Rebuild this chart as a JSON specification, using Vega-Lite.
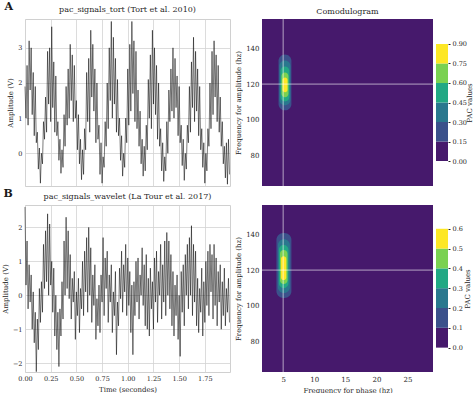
{
"$schema": "https://vega.github.io/schema/vega-lite/v6.json",
"padding": {"left": 0, "top": 0, "right": 0, "bottom": 0},
"config": {
  "font": "DejaVu Serif",
  "view": {"stroke": "#d0d0d0", "strokeWidth": 1},
  "axis": {"labelFontSize": 6.5, "titleFontSize": 7, "labelColor": "#262626", "titleColor": "#262626", "titleFontWeight": "normal", "ticks": false, "domain": false, "grid": false, "gridColor": "#d3d3d3", "gridWidth": 0.8, "labelPadding": 3, "titlePadding": 4, "labelOverlap": false},
  "title": {"fontSize": 8, "fontWeight": "normal", "color": "#262626", "offset": 3}
},
"datasets": {
  "tort": [
{"t":0.00,"v":1.9},{"t":0.01,"v":1.0},{"t":0.02,"v":2.5},{"t":0.03,"v":0.8},{"t":0.04,"v":3.2},{"t":0.05,"v":1.8},{"t":0.06,"v":3.0},{"t":0.07,"v":1.1},{"t":0.08,"v":2.3},{"t":0.09,"v":0.5},
{"t":0.10,"v":1.9},{"t":0.11,"v":0.3},{"t":0.12,"v":0.6},{"t":0.13,"v":-0.45},{"t":0.14,"v":0.15},{"t":0.15,"v":-0.85},{"t":0.16,"v":0.0},{"t":0.17,"v":-0.3},{"t":0.18,"v":0.9},{"t":0.19,"v":0.4},
{"t":0.20,"v":1.6},{"t":0.21,"v":0.6},{"t":0.22,"v":2.9},{"t":0.23,"v":1.4},{"t":0.24,"v":3.0},{"t":0.25,"v":0.9},{"t":0.26,"v":3.6},{"t":0.27,"v":1.3},{"t":0.28,"v":2.6},{"t":0.29,"v":0.6},
{"t":0.30,"v":2.2},{"t":0.31,"v":0.5},{"t":0.32,"v":0.9},{"t":0.33,"v":-0.2},{"t":0.34,"v":0.4},{"t":0.35,"v":-0.57},{"t":0.36,"v":0.1},{"t":0.37,"v":-0.4},{"t":0.38,"v":1.1},{"t":0.39,"v":0.2},
{"t":0.40,"v":1.9},{"t":0.41,"v":0.8},{"t":0.42,"v":2.4},{"t":0.43,"v":1.0},{"t":0.44,"v":3.1},{"t":0.45,"v":1.5},{"t":0.46,"v":2.8},{"t":0.47,"v":0.9},{"t":0.48,"v":2.5},{"t":0.49,"v":1.0},
{"t":0.50,"v":1.5},{"t":0.51,"v":0.1},{"t":0.52,"v":1.1},{"t":0.53,"v":-0.3},{"t":0.54,"v":0.4},{"t":0.55,"v":-0.75},{"t":0.56,"v":0.1},{"t":0.57,"v":-0.6},{"t":0.58,"v":0.7},{"t":0.59,"v":0.1},
{"t":0.60,"v":2.3},{"t":0.61,"v":0.9},{"t":0.62,"v":2.7},{"t":0.63,"v":0.6},{"t":0.64,"v":3.5},{"t":0.65,"v":1.6},{"t":0.66,"v":3.1},{"t":0.67,"v":1.2},{"t":0.68,"v":2.4},{"t":0.69,"v":0.3},
{"t":0.70,"v":2.0},{"t":0.71,"v":0.4},{"t":0.72,"v":0.8},{"t":0.73,"v":-0.6},{"t":0.74,"v":0.3},{"t":0.75,"v":-0.85},{"t":0.76,"v":-0.1},{"t":0.77,"v":-0.4},{"t":0.78,"v":0.9},{"t":0.79,"v":0.2},
{"t":0.80,"v":2.0},{"t":0.81,"v":0.7},{"t":0.82,"v":3.0},{"t":0.83,"v":1.5},{"t":0.84,"v":3.75},{"t":0.85,"v":1.0},{"t":0.86,"v":3.3},{"t":0.87,"v":1.4},{"t":0.88,"v":2.7},{"t":0.89,"v":0.6},
{"t":0.90,"v":2.1},{"t":0.91,"v":0.5},{"t":0.92,"v":1.0},{"t":0.93,"v":-0.2},{"t":0.94,"v":0.5},{"t":0.95,"v":-0.65},{"t":0.96,"v":0.0},{"t":0.97,"v":-0.4},{"t":0.98,"v":1.0},{"t":0.99,"v":0.3},
{"t":1.00,"v":2.4},{"t":1.01,"v":0.8},{"t":1.02,"v":3.1},{"t":1.03,"v":1.2},{"t":1.04,"v":3.75},{"t":1.05,"v":1.7},{"t":1.06,"v":3.2},{"t":1.07,"v":0.9},{"t":1.08,"v":2.9},{"t":1.09,"v":0.7},
{"t":1.10,"v":1.8},{"t":1.11,"v":0.2},{"t":1.12,"v":1.2},{"t":1.13,"v":-0.3},{"t":1.14,"v":0.4},{"t":1.15,"v":-0.65},{"t":1.16,"v":0.2},{"t":1.17,"v":-0.5},{"t":1.18,"v":0.8},{"t":1.19,"v":0.1},
{"t":1.20,"v":2.1},{"t":1.21,"v":1.0},{"t":1.22,"v":2.8},{"t":1.23,"v":0.7},{"t":1.24,"v":3.5},{"t":1.25,"v":1.4},{"t":1.26,"v":3.0},{"t":1.27,"v":1.1},{"t":1.28,"v":2.5},{"t":1.29,"v":0.4},
{"t":1.30,"v":2.0},{"t":1.31,"v":0.2},{"t":1.32,"v":0.7},{"t":1.33,"v":-0.5},{"t":1.34,"v":0.3},{"t":1.35,"v":-0.8},{"t":1.36,"v":-0.1},{"t":1.37,"v":-0.5},{"t":1.38,"v":0.9},{"t":1.39,"v":0.0},
{"t":1.40,"v":1.8},{"t":1.41,"v":0.9},{"t":1.42,"v":2.4},{"t":1.43,"v":1.2},{"t":1.44,"v":3.0},{"t":1.45,"v":1.0},{"t":1.46,"v":2.7},{"t":1.47,"v":1.3},{"t":1.48,"v":2.2},{"t":1.49,"v":0.5},
{"t":1.50,"v":1.9},{"t":1.51,"v":0.3},{"t":1.52,"v":0.8},{"t":1.53,"v":-0.35},{"t":1.54,"v":0.4},{"t":1.55,"v":-0.77},{"t":1.56,"v":0.0},{"t":1.57,"v":-0.45},{"t":1.58,"v":0.8},{"t":1.59,"v":0.3},
{"t":1.60,"v":1.9},{"t":1.61,"v":0.6},{"t":1.62,"v":2.6},{"t":1.63,"v":1.3},{"t":1.64,"v":3.3},{"t":1.65,"v":0.9},{"t":1.66,"v":2.9},{"t":1.67,"v":1.2},{"t":1.68,"v":2.4},{"t":1.69,"v":0.5},
{"t":1.70,"v":1.9},{"t":1.71,"v":0.1},{"t":1.72,"v":0.7},{"t":1.73,"v":-0.4},{"t":1.74,"v":0.3},{"t":1.75,"v":-0.85},{"t":1.76,"v":0.0},{"t":1.77,"v":-0.5},{"t":1.78,"v":0.7},{"t":1.79,"v":0.2},
{"t":1.80,"v":2.0},{"t":1.81,"v":0.7},{"t":1.82,"v":2.9},{"t":1.83,"v":1.1},{"t":1.84,"v":3.2},{"t":1.85,"v":1.6},{"t":1.86,"v":2.8},{"t":1.87,"v":0.9},{"t":1.88,"v":2.5},{"t":1.89,"v":0.6},
{"t":1.90,"v":1.6},{"t":1.91,"v":0.2},{"t":1.92,"v":0.9},{"t":1.93,"v":-0.3},{"t":1.94,"v":0.2},{"t":1.95,"v":-0.7},{"t":1.96,"v":0.3},{"t":1.97,"v":-0.88},{"t":1.98,"v":0.4},{"t":1.99,"v":-0.6}
  ],
  "wavelet": [
{"t":0.00,"v":2.6},{"t":0.01,"v":0.3},{"t":0.02,"v":1.6},{"t":0.03,"v":-0.4},{"t":0.04,"v":0.9},{"t":0.05,"v":-0.2},{"t":0.06,"v":0.6},{"t":0.07,"v":-1.0},{"t":0.08,"v":0.1},{"t":0.09,"v":-1.4},
{"t":0.10,"v":-0.5},{"t":0.11,"v":-2.25},{"t":0.12,"v":-0.7},{"t":0.13,"v":-1.6},{"t":0.14,"v":0.2},{"t":0.15,"v":-0.8},{"t":0.16,"v":0.4},{"t":0.17,"v":-0.5},{"t":0.18,"v":1.5},{"t":0.19,"v":0.2},
{"t":0.20,"v":1.9},{"t":0.21,"v":0.4},{"t":0.22,"v":2.4},{"t":0.23,"v":0.0},{"t":0.24,"v":2.1},{"t":0.25,"v":0.3},{"t":0.26,"v":1.0},{"t":0.27,"v":-0.5},{"t":0.28,"v":0.8},{"t":0.29,"v":-1.2},
{"t":0.30,"v":0.0},{"t":0.31,"v":-1.6},{"t":0.32,"v":-0.5},{"t":0.33,"v":-2.1},{"t":0.34,"v":-0.4},{"t":0.35,"v":-1.2},{"t":0.36,"v":0.4},{"t":0.37,"v":-0.7},{"t":0.38,"v":1.6},{"t":0.39,"v":0.0},
{"t":0.40,"v":2.3},{"t":0.41,"v":0.2},{"t":0.42,"v":1.9},{"t":0.43,"v":-0.1},{"t":0.44,"v":1.2},{"t":0.45,"v":-0.7},{"t":0.46,"v":0.5},{"t":0.47,"v":-0.2},{"t":0.48,"v":0.7},{"t":0.49,"v":-1.3},
{"t":0.50,"v":0.1},{"t":0.51,"v":-0.6},{"t":0.52,"v":0.5},{"t":0.53,"v":-1.1},{"t":0.54,"v":0.2},{"t":0.55,"v":-0.4},{"t":0.56,"v":1.0},{"t":0.57,"v":-0.6},{"t":0.58,"v":1.3},{"t":0.59,"v":0.1},
{"t":0.60,"v":1.7},{"t":0.61,"v":-0.5},{"t":0.62,"v":2.0},{"t":0.63,"v":0.0},{"t":0.64,"v":1.4},{"t":0.65,"v":-0.8},{"t":0.66,"v":0.6},{"t":0.67,"v":-0.3},{"t":0.68,"v":0.9},{"t":0.69,"v":-1.3},
{"t":0.70,"v":-0.1},{"t":0.71,"v":-0.9},{"t":0.72,"v":0.3},{"t":0.73,"v":-1.1},{"t":0.74,"v":0.6},{"t":0.75,"v":-0.2},{"t":0.76,"v":1.7},{"t":0.77,"v":-0.6},{"t":0.78,"v":1.1},{"t":0.79,"v":0.2},
{"t":0.80,"v":1.3},{"t":0.81,"v":-0.8},{"t":0.82,"v":0.6},{"t":0.83,"v":-0.2},{"t":0.84,"v":0.9},{"t":0.85,"v":-1.1},{"t":0.86,"v":0.1},{"t":0.87,"v":-0.6},{"t":0.88,"v":0.7},{"t":0.89,"v":-1.75},
{"t":0.90,"v":-0.2},{"t":0.91,"v":-0.9},{"t":0.92,"v":0.8},{"t":0.93,"v":-0.1},{"t":0.94,"v":1.3},{"t":0.95,"v":-0.5},{"t":0.96,"v":0.9},{"t":0.97,"v":0.1},{"t":0.98,"v":1.5},{"t":0.99,"v":-0.6},
{"t":1.00,"v":1.1},{"t":1.01,"v":-0.3},{"t":1.02,"v":0.7},{"t":1.03,"v":-1.1},{"t":1.04,"v":0.3},{"t":1.05,"v":-1.75},{"t":1.06,"v":0.4},{"t":1.07,"v":-0.6},{"t":1.08,"v":1.0},{"t":1.09,"v":-0.2},
{"t":1.10,"v":1.1},{"t":1.11,"v":-0.7},{"t":1.12,"v":0.6},{"t":1.13,"v":0.0},{"t":1.14,"v":1.4},{"t":1.15,"v":-0.3},{"t":1.16,"v":0.9},{"t":1.17,"v":-0.9},{"t":1.18,"v":1.2},{"t":1.19,"v":-1.0},
{"t":1.20,"v":0.5},{"t":1.21,"v":-1.2},{"t":1.22,"v":0.8},{"t":1.23,"v":-0.4},{"t":1.24,"v":0.4},{"t":1.25,"v":-1.0},{"t":1.26,"v":1.1},{"t":1.27,"v":-0.2},{"t":1.28,"v":1.3},{"t":1.29,"v":-0.8},
{"t":1.30,"v":0.7},{"t":1.31,"v":0.0},{"t":1.32,"v":1.5},{"t":1.33,"v":-0.7},{"t":1.34,"v":0.9},{"t":1.35,"v":-0.2},{"t":1.36,"v":1.6},{"t":1.37,"v":-0.6},{"t":1.38,"v":1.85},{"t":1.39,"v":0.0},
{"t":1.40,"v":1.6},{"t":1.41,"v":-0.4},{"t":1.42,"v":1.2},{"t":1.43,"v":-0.9},{"t":1.44,"v":0.7},{"t":1.45,"v":-1.2},{"t":1.46,"v":0.3},{"t":1.47,"v":-0.6},{"t":1.48,"v":0.6},{"t":1.49,"v":-1.3},
{"t":1.50,"v":0.0},{"t":1.51,"v":-1.8},{"t":1.52,"v":0.7},{"t":1.53,"v":-0.5},{"t":1.54,"v":0.9},{"t":1.55,"v":-0.9},{"t":1.56,"v":1.2},{"t":1.57,"v":0.0},{"t":1.58,"v":1.5},{"t":1.59,"v":-0.4},
{"t":1.60,"v":1.7},{"t":1.61,"v":0.0},{"t":1.62,"v":2.05},{"t":1.63,"v":-0.6},{"t":1.64,"v":1.5},{"t":1.65,"v":-0.2},{"t":1.66,"v":1.3},{"t":1.67,"v":-0.9},{"t":1.68,"v":0.5},{"t":1.69,"v":-1.1},
{"t":1.70,"v":0.2},{"t":1.71,"v":-0.5},{"t":1.72,"v":0.8},{"t":1.73,"v":-1.2},{"t":1.74,"v":0.4},{"t":1.75,"v":-0.8},{"t":1.76,"v":1.0},{"t":1.77,"v":-0.3},{"t":1.78,"v":1.3},{"t":1.79,"v":-0.6},
{"t":1.80,"v":1.5},{"t":1.81,"v":0.1},{"t":1.82,"v":1.2},{"t":1.83,"v":-0.7},{"t":1.84,"v":1.5},{"t":1.85,"v":-0.3},{"t":1.86,"v":1.1},{"t":1.87,"v":-0.9},{"t":1.88,"v":0.7},{"t":1.89,"v":-0.2},
{"t":1.90,"v":0.9},{"t":1.91,"v":-1.0},{"t":1.92,"v":0.4},{"t":1.93,"v":-0.6},{"t":1.94,"v":0.8},{"t":1.95,"v":-0.9},{"t":1.96,"v":0.2},{"t":1.97,"v":-0.5},{"t":1.98,"v":0.5},{"t":1.99,"v":-0.8}
  ],
  "comodA": [
    {"band":0,"f1":1.6,"f2":29.1,"a1":63,"a2":156.4},
    {"band":1,"f1":4.26,"f2":6.33,"a1":105.3,"a2":136.6},
    {"band":2,"f1":4.4,"f2":6.17,"a1":108.1,"a2":133.2},
    {"band":3,"f1":4.57,"f2":6.0,"a1":110.3,"a2":129.9},
    {"band":4,"f1":4.73,"f2":5.85,"a1":112.6,"a2":126.5},
    {"band":5,"f1":4.9,"f2":5.7,"a1":115.4,"a2":123.7}
  ],
  "comodB": [
    {"band":0,"f1":1.6,"f2":29.1,"a1":63,"a2":156.4},
    {"band":1,"f1":3.92,"f2":6.33,"a1":104.4,"a2":140.7},
    {"band":2,"f1":4.16,"f2":6.09,"a1":107.2,"a2":137.3},
    {"band":3,"f1":4.32,"f2":5.85,"a1":110,"a2":134},
    {"band":4,"f1":4.49,"f2":5.7,"a1":112.2,"a2":131.2},
    {"band":5,"f1":4.65,"f2":5.5,"a1":114.4,"a2":127.8}
  ],
  "cbarA": [
    {"band":0,"lo":0,"hi":0.15},{"band":1,"lo":0.15,"hi":0.3},{"band":2,"lo":0.3,"hi":0.45},
    {"band":3,"lo":0.45,"hi":0.6},{"band":4,"lo":0.6,"hi":0.75},{"band":5,"lo":0.75,"hi":0.9}
  ],
  "cbarB": [
    {"band":0,"lo":0,"hi":0.1},{"band":1,"lo":0.1,"hi":0.2},{"band":2,"lo":0.2,"hi":0.3},
    {"band":3,"lo":0.3,"hi":0.4},{"band":4,"lo":0.4,"hi":0.5},{"band":5,"lo":0.5,"hi":0.6}
  ]
},
"columns": 3,
"align": "each",
"bounds": "full",
"spacing": {"row": 0, "column": 2},
"resolve": {"scale": {"x": "independent", "y": "independent"}},
"concat": [
  {
    "width": 205, "height": 167,
    "title": {"text": "pac_signals_tort (Tort et al. 2010)", "offset": -13},
    "layer": [
      {"data": {"name": "tort"}, "mark": {"type": "line", "color": "black", "strokeWidth": 0.7, "opacity": 0.75},
       "encoding": {
         "x": {"field": "t", "type": "quantitative", "scale": {"domain": [0, 1.995], "nice": false, "zero": false}, "axis": {"values": [0,0.25,0.5,0.75,1,1.25,1.5,1.75], "tickCount": 20, "labels": false, "title": null, "grid": true}},
         "y": {"field": "v", "type": "quantitative", "scale": {"domain": [-0.93, 3.82], "nice": false, "zero": false}, "axis": {"values": [0,1,2,3], "grid": true, "title": "Amplitude (V)"}}
       }},
      {"data": {"values": [{"label": "A"}]}, "mark": {"type": "text", "fontSize": 11, "fontWeight": "bold", "align": "left", "baseline": "alphabetic", "color": "#1a1a1a"},
       "encoding": {"x": {"datum": -0.2}, "y": {"datum": 4.08}, "text": {"field": "label"}}}
    ]
  },
  {
    "width": 171, "height": 167,
    "title": "Comodulogram",
    "view": {"stroke": null},
    "layer": [
      {"data": {"name": "comodA"}, "transform": [{"filter": "datum.band == 0"}], "mark": "rect",
       "encoding": {
         "x": {"field": "f1", "type": "quantitative", "scale": {"domain": [1.6, 29.1], "nice": false, "zero": false}, "axis": {"values": [5,10,15,20,25], "labels": false, "title": null}},
         "x2": {"field": "f2"},
         "y": {"field": "a1", "type": "quantitative", "scale": {"domain": [63, 156.4], "nice": false, "zero": false}, "axis": {"values": [80,100,120,140], "title": "Frequency for amplitude (hz)", "labelFontSize": 7}},
         "y2": {"field": "a2"},
         "color": {"field": "band", "type": "ordinal", "scale": {"domain": [0,1,2,3,4,5], "range": ["#46196c","#3b518b","#2a788e","#22a884","#7ad151","#fde725"]}, "legend": null}
       }},
      {"data": {"name": "comodA"}, "transform": [{"filter": "datum.band > 0"}], "mark": {"type": "rect", "cornerRadius": 7},
       "encoding": {
         "x": {"field": "f1", "type": "quantitative"},
         "x2": {"field": "f2"},
         "y": {"field": "a1", "type": "quantitative"},
         "y2": {"field": "a2"},
         "color": {"field": "band", "type": "ordinal", "legend": null}
       }},
      {"data": {"values": [{}]}, "mark": {"type": "rule", "color": "#ffffff", "opacity": 0.6, "strokeWidth": 1}, "encoding": {"x": {"datum": 5}}},
      {"data": {"values": [{}]}, "mark": {"type": "rule", "color": "#ffffff", "opacity": 0.6, "strokeWidth": 1}, "encoding": {"y": {"datum": 120}}}
    ]
  },
  {
    "width": 12, "height": 167,
    "view": {"stroke": null},
    "data": {"name": "cbarA"},
    "mark": "rect",
    "encoding": {
      "y": {"field": "lo", "type": "quantitative", "scale": {"domain": [-0.192, 1.092], "nice": false, "zero": false}, "axis": {"orient": "right", "values": [0,0.15,0.3,0.45,0.6,0.75,0.9], "format": ".2f", "title": "PAC values", "titleAngle": 270, "titleBaseline": "top", "ticks": true, "tickSize": 2, "tickColor": "#262626", "labelPadding": 2, "titlePadding": -1}},
      "y2": {"field": "hi"},
      "color": {"field": "band", "type": "ordinal", "legend": null}
    }
  },
  {
    "width": 205, "height": 167,
    "title": {"text": "pac_signals_wavelet (La Tour et al. 2017)", "offset": -13},
    "layer": [
      {"data": {"name": "wavelet"}, "mark": {"type": "line", "color": "black", "strokeWidth": 0.7, "opacity": 0.75},
       "encoding": {
         "x": {"field": "t", "type": "quantitative", "scale": {"domain": [0, 1.995], "nice": false, "zero": false}, "axis": {"values": [0,0.25,0.5,0.75,1,1.25,1.5,1.75], "tickCount": 20, "format": ".2f", "title": "Time (secondes)", "grid": true, "labelOverlap": false, "labelBound": false, "labelFlush": false}},
         "y": {"field": "v", "type": "quantitative", "scale": {"domain": [-2.26, 2.66], "nice": false, "zero": false}, "axis": {"values": [-2,-1,0,1,2], "grid": true, "title": "Amplitude (V)"}}
       }},
      {"data": {"values": [{"label": "B"}]}, "mark": {"type": "text", "fontSize": 11, "fontWeight": "bold", "align": "left", "baseline": "alphabetic", "color": "#1a1a1a"},
       "encoding": {"x": {"datum": -0.21}, "y": {"datum": 2.91}, "text": {"field": "label"}}}
    ]
  },
  {
    "width": 171, "height": 167,
    "view": {"stroke": null},
    "layer": [
      {"data": {"name": "comodB"}, "transform": [{"filter": "datum.band == 0"}], "mark": "rect",
       "encoding": {
         "x": {"field": "f1", "type": "quantitative", "scale": {"domain": [1.6, 29.1], "nice": false, "zero": false}, "axis": {"values": [5,10,15,20,25], "title": "Frequency for phase (hz)", "labelFontSize": 7}},
         "x2": {"field": "f2"},
         "y": {"field": "a1", "type": "quantitative", "scale": {"domain": [63, 156.4], "nice": false, "zero": false}, "axis": {"values": [80,100,120,140], "title": "Frequency for amplitude (hz)", "labelFontSize": 7}},
         "y2": {"field": "a2"},
         "color": {"field": "band", "type": "ordinal", "legend": null}
       }},
      {"data": {"name": "comodB"}, "transform": [{"filter": "datum.band > 0"}], "mark": {"type": "rect", "cornerRadius": 7},
       "encoding": {
         "x": {"field": "f1", "type": "quantitative"},
         "x2": {"field": "f2"},
         "y": {"field": "a1", "type": "quantitative"},
         "y2": {"field": "a2"},
         "color": {"field": "band", "type": "ordinal", "legend": null}
       }},
      {"data": {"values": [{}]}, "mark": {"type": "rule", "color": "#ffffff", "opacity": 0.6, "strokeWidth": 1}, "encoding": {"x": {"datum": 5}}},
      {"data": {"values": [{}]}, "mark": {"type": "rule", "color": "#ffffff", "opacity": 0.6, "strokeWidth": 1}, "encoding": {"y": {"datum": 120}}}
    ]
  },
  {
    "width": 12, "height": 167,
    "view": {"stroke": null},
    "data": {"name": "cbarB"},
    "mark": "rect",
    "encoding": {
      "y": {"field": "lo", "type": "quantitative", "scale": {"domain": [-0.123, 0.72], "nice": false, "zero": false}, "axis": {"orient": "right", "values": [0,0.1,0.2,0.3,0.4,0.5,0.6], "format": ".1f", "title": "PAC values", "titleAngle": 270, "titleBaseline": "top", "ticks": true, "tickSize": 2, "tickColor": "#262626", "labelPadding": 2, "titlePadding": 1}},
      "y2": {"field": "hi"},
      "color": {"field": "band", "type": "ordinal", "legend": null}
    }
  }
]
}
